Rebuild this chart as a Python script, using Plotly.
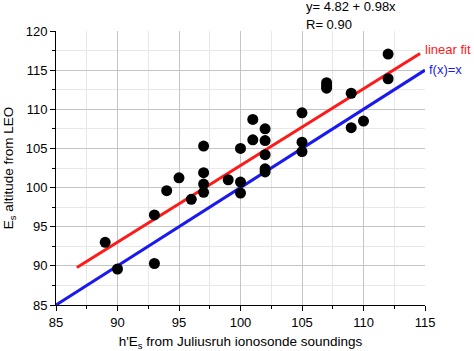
import plotly.graph_objects as go

# Data
x_vals = [89, 90, 93, 93, 94, 95, 96, 97, 97, 97, 97, 99, 100, 100, 100,
          101, 101, 102, 102, 102, 102, 102, 105, 105, 105, 107, 107, 107,
          109, 109, 110, 112, 112]
y_vals = [93.0, 89.6, 90.3, 96.5, 99.6, 101.25, 98.5, 105.3, 101.9, 100.45, 99.4, 101.0, 105.0, 100.7, 99.3,
          108.7, 106.1, 107.5, 106.0, 104.2, 102.4, 102.0, 109.55, 105.8, 104.6, 113.4, 113.0, 112.7,
          112.05, 107.65, 108.5, 117.05, 113.9]

fit_intercept = 4.82
fit_slope = 0.98
fit_r = 0.90
fit_x_range = [86.7, 114.6]
identity_x_range = [85, 115]

fit_y = [fit_intercept + fit_slope * v for v in fit_x_range]

FONT = "Liberation Sans, Arial, sans-serif"
RED = "#ff1a1a"
BLUE = "#1a1aee"

fig = go.Figure()
fig.add_trace(go.Scatter(x=fit_x_range, y=fit_y, mode="lines",
                         line=dict(color=RED, width=3), showlegend=False))
fig.add_trace(go.Scatter(x=identity_x_range, y=identity_x_range, mode="lines",
                         line=dict(color=BLUE, width=3), showlegend=False,
                         cliponaxis=False))
fig.add_trace(go.Scatter(x=x_vals, y=y_vals, mode="markers",
                         marker=dict(color="black", size=11), showlegend=False))

axis_common = dict(
    showline=True, linecolor="black", linewidth=1,
    ticks="outside", ticklen=5, tickcolor="black", tickwidth=1,
    showgrid=True, gridcolor="#c4c4c4", gridwidth=1,
    zeroline=False, dtick=5, automargin=False,
    tickfont=dict(family=FONT, size=13, color="black"),
    minor=dict(dtick=2.5, ticks="outside", ticklen=3, tickcolor="black",
               showgrid=True, gridcolor="#e8e8e8", gridwidth=1),
)

fig.update_layout(
    width=474, height=351,
    margin=dict(l=56, r=49, t=31, b=46),
    paper_bgcolor="white", plot_bgcolor="white",
    font=dict(family=FONT, size=13, color="black"),
    xaxis=dict(range=[85, 115], tick0=85,
               title=dict(text="h'E<sub>s</sub> from Juliusruh ionosonde soundings",
                          font=dict(family=FONT, size=13.5), standoff=15),
               **axis_common),
    yaxis=dict(range=[85, 120], tick0=85,
               title=dict(text="E<sub>s</sub> altitude from LEO",
                          font=dict(family=FONT, size=13.5), standoff=8),
               **axis_common),
    annotations=[
        dict(x=0.672, y=1.0876, xref="paper", yref="paper",
             text=f"y= {fit_intercept:.2f} + {fit_slope:.2f}x",
             showarrow=False, xanchor="left", yanchor="middle",
             font=dict(family=FONT, size=13, color="black")),
        dict(x=0.672, y=1.0255, xref="paper", yref="paper",
             text=f"R= {fit_r:.2f}",
             showarrow=False, xanchor="left", yanchor="middle",
             font=dict(family=FONT, size=13, color="black")),
        dict(x=0.995, y=0.934, xref="paper", yref="paper", text="linear fit",
             showarrow=False, xanchor="left", yanchor="middle",
             font=dict(family=FONT, size=13, color=RED)),
        dict(x=1.006, y=0.858, xref="paper", yref="paper", text="f(x)=x",
             showarrow=False, xanchor="left", yanchor="middle",
             font=dict(family=FONT, size=13, color=BLUE)),
    ],
)

fig.write_html("out.html")
